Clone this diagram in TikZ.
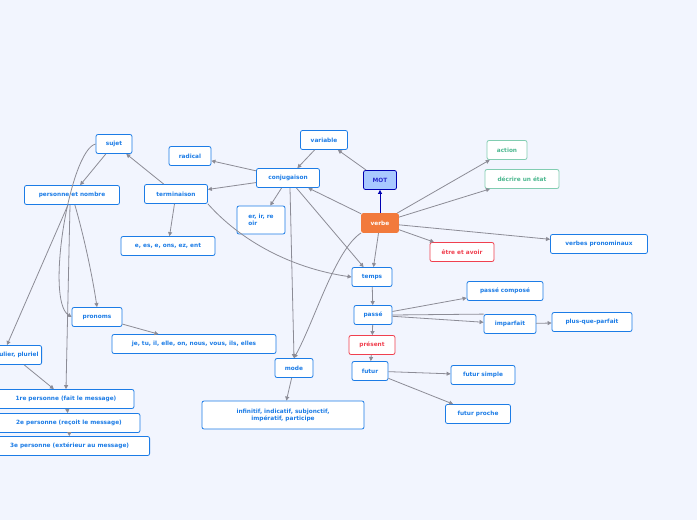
\documentclass[tikz,border=0pt]{standalone}
\usepackage{fontspec}
\setmainfont{DejaVu Sans}
\usetikzlibrary{arrows.meta}
\definecolor{bg}{HTML}{F2F5FE}
\definecolor{bl}{HTML}{1C7CE6}
\definecolor{gr}{HTML}{4DB890}
\definecolor{rd}{HTML}{F0404F}
\definecolor{ln}{HTML}{8C8C96}
\definecolor{motf}{HTML}{A8C8FF}
\definecolor{mott}{HTML}{2A2ACC}
\definecolor{orng}{HTML}{F27A3C}
\tikzset{
 bx/.style={draw=bl,fill=white,rounded corners=2pt,line width=0.8pt,text=bl,font=\fontsize{5.8}{7}\selectfont\bfseries,minimum height=19pt,inner xsep=3pt,align=center},
 gbx/.style={bx,draw=gr!70,text=gr},
 rbx/.style={bx,draw=rd,text=rd},
 ar/.style={draw=ln,line width=0.8pt,-{Triangle[length=4pt,width=4pt]}},
 pl/.style={draw=ln,line width=0.8pt}
}
\begin{document}
\begin{tikzpicture}[x=1pt,y=-1pt]
\fill[bg] (0,0) rectangle (697,520);
\clip (0,0) rectangle (697,520);
\useasboundingbox (0,0) rectangle (697,520);
\node[bx,fill=motf,draw=blue!70!black,text=mott,minimum width=33pt] (mot) at (380,180) {MOT};
\node[bx,fill=orng,draw=orng,text=white,minimum width=37pt] (verbe) at (380,223) {verbe};
\node[bx,minimum width=47pt] (var) at (324,140) {variable};
\node[bx,minimum width=63pt] (conj) at (288,178) {conjugaison};
\node[bx,minimum width=42pt] (rad) at (190,156) {radical};
\node[bx,minimum width=63pt] (term) at (176,194) {terminaison};
\node[bx,minimum width=36pt] (sujet) at (114,144) {sujet};
\node[bx,minimum width=95pt] (pn) at (72,195) {personne et nombre};
\node[bx,minimum width=48pt,minimum height=28pt,align=left] (er) at (261,220) {er, ir, re\\oir};
\node[bx,minimum width=94pt] (ees) at (168,246) {e, es, e, ons, ez, ent};
\node[bx,minimum width=50pt] (pron) at (97,317) {pronoms};
\node[bx,minimum width=164pt] (je) at (194,344) {je, tu, il, elle, on, nous, vous, ils, elles};
\node[bx,anchor=east] (sp) at (42,355) {singulier, pluriel};
\node[bx,minimum width=136pt] (p1) at (66,399) {1re personne (fait le message)};
\node[bx,minimum width=142pt] (p2) at (69,423) {2e personne (reçoit le message)};
\node[bx,anchor=east,minimum width=160pt] (p3) at (150,446) {3e personne (extérieur au message)};
\node[bx,minimum width=38pt] (mode) at (294,368) {mode};
\node[bx,minimum width=162pt,minimum height=28pt] (inf) at (283,415) {infinitif, indicatif, subjonctif,\\impératif, participe};
\node[bx,minimum width=40pt] (temps) at (372,277) {temps};
\node[bx,minimum width=38pt] (passe) at (373,315) {passé};
\node[rbx,minimum width=46pt] (pres) at (372,345) {présent};
\node[bx,minimum width=36pt] (futur) at (370,371) {futur};
\node[gbx,minimum width=40pt] (action) at (507,150) {action};
\node[gbx,minimum width=74pt] (etat) at (522,179) {décrire un état};
\node[bx,minimum width=97pt] (vp) at (599,244) {verbes pronominaux};
\node[rbx,minimum width=64pt] (etre) at (462,252) {être et avoir};
\node[bx,minimum width=76pt] (pc) at (505,291) {passé composé};
\node[bx,minimum width=52pt] (imp) at (510,324) {imparfait};
\node[bx,minimum width=80pt] (pqp) at (592,322) {plus-que-parfait};
\node[bx,minimum width=64pt] (fs) at (483,375) {futur simple};
\node[bx,minimum width=65pt] (fp) at (478,414) {futur proche};
% connectors
\draw[draw=blue!70!black,line width=0.8pt,-{Triangle[length=4pt,width=4pt]}] (verbe) -- (mot);
\draw[ar] (mot) -- (var);
\draw[ar] (var) -- (conj);
\draw[ar] (verbe) -- (conj);
\draw[ar] (conj) -- (rad);
\draw[ar] (conj) -- (term);
\draw[ar] (conj) -- (er);
\draw[ar] (conj.south) ++(2,0) -- (mode.north);
\draw[ar] (conj) -- (temps);
\draw[ar] (term) -- (sujet);
\draw[ar] (term) -- (ees);
\draw[ar] (term.south east) .. controls (240,240) and (290,268) .. (temps.west);
\draw[ar] (sujet) -- (pn);
\draw[ar] (sujet.west) .. controls (70,150) and (45,300) .. (pron.west);
\draw[ar] (pn) .. controls (85,240) and (93,280) .. (pron.north);
\draw[ar] (pn.south) ++(-2,0) -- (p1.north);
\draw[ar] (pn.south) ++(-4,0) -- (7,345);
\draw[ar] (sp) -- (p1);
\draw[ar] (p1) -- (p2);
\draw[ar] (p2) -- (p3);
\draw[ar] (pron) -- (je);
\draw[ar] (mode) -- (inf);
\draw[ar] (verbe.south west) .. controls (335,250) and (315,320) .. (mode.north);
\draw[ar] (verbe) -- (temps);
\draw[ar] (verbe) -- (action);
\draw[ar] (verbe) -- (etat);
\draw[ar] (verbe) -- (vp);
\draw[ar] (verbe) -- (etre);
\draw[ar] (temps) -- (passe);
\draw[ar] (passe) -- (pc);
\draw[ar] (passe) -- (imp);
\draw[pl] (passe.east) -- (imp.north west);
\draw[ar] (imp) -- (pqp);
\draw[ar] (passe) -- (pres);
\draw[ar] (pres) -- (futur);
\draw[ar] (futur) -- (fs);
\draw[ar] (futur) -- (fp);
\end{tikzpicture}
\end{document}
